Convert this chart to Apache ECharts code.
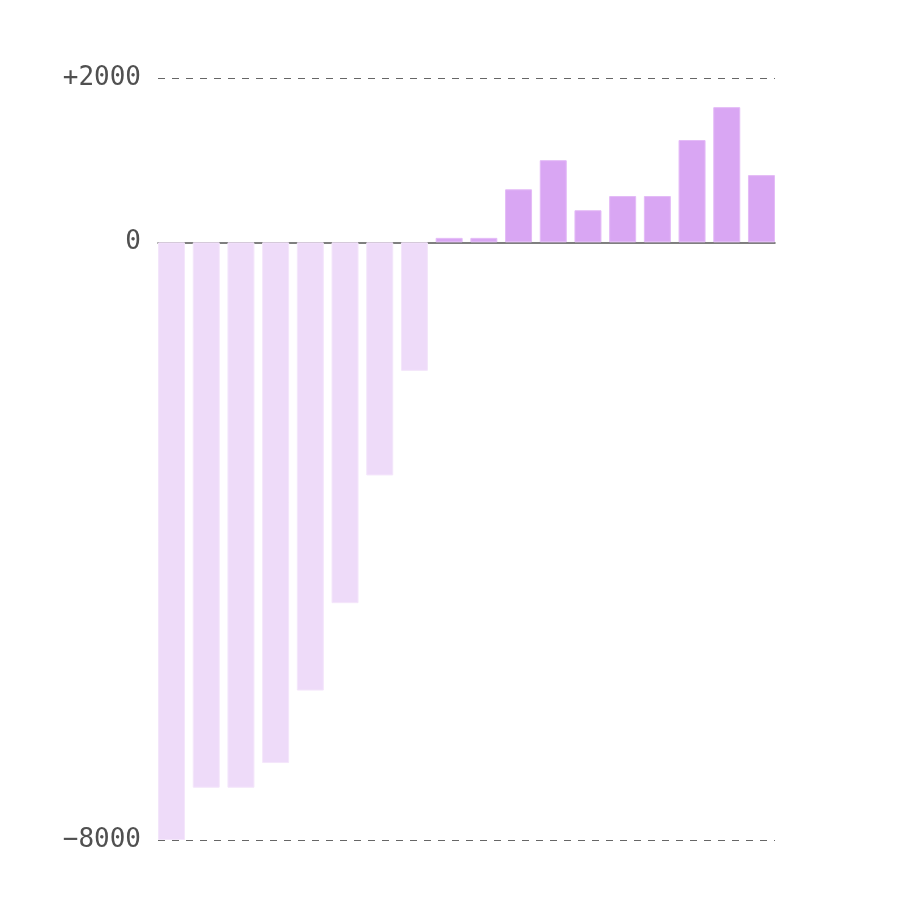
<!DOCTYPE html>
<html>
<head>
<meta charset="utf-8">
<script src="https://cdn.jsdelivr.net/npm/echarts@6/dist/echarts.min.js"></script>
<style>
  html, body { margin: 0; padding: 0; background: #fff; }
  #chart { width: 921px; height: 908px; }
</style>
</head>
<body>
<div id="chart"></div>
<script>
// 18 periods, values
const categories = ['1','2','3','4','5','6','7','8','9','10','11','12','13','14','15','16','17','18'];
const values = [-8000, -7300, -7300, -6970, -6000, -4830, -3120, -1720, 60, 60, 710, 1100, 430, 620, 620, 1370, 1810, 900];

// axis range and the three labelled lines
const axisMin = -8000;
const axisMax = 2200;
const tickValues = [-8000, 0, 2200];
const tickLabels = ['\u22128000', '0', '+2000'];

const chart = echarts.init(document.getElementById('chart'));

// bars sit flush with both ends of the plot, so the x scale runs half a bar past the first and last index
const option = {
  animation: false,
  grid: { left: 158, right: 146, top: 78, bottom: 68, containLabel: false },
  xAxis: {
    type: 'value',
    min: -0.39,
    max: categories.length - 1 + 0.39,
    axisLine: { show: true, onZero: true, lineStyle: { color: '#555', width: 1.5 } },
    axisTick: { show: false },
    axisLabel: { show: false },
    splitLine: { show: false }
  },
  yAxis: {
    type: 'value',
    min: axisMin,
    max: axisMax,
    interval: 200,
    axisLine: { show: false },
    axisTick: { show: false },
    splitLine: { show: false },
    axisLabel: {
      margin: 17,
      color: '#505050',
      fontFamily: 'DejaVu Sans Mono',
      fontSize: 26,
      formatter: function (v) {
        const i = tickValues.indexOf(v);
        return i >= 0 ? tickLabels[i] : '';
      }
    }
  },
  series: [{
    type: 'bar',
    barWidth: 27,
    data: values.map((v, i) => ({
      value: [i, v],
      itemStyle: v < 0
        ? { color: '#eedbf9', borderColor: '#f4e6fb', borderWidth: 1 }
        : { color: '#d9a6f3', borderColor: '#e4bbf7', borderWidth: 1 }
    })),
    markLine: {
      silent: true,
      symbol: 'none',
      label: { show: false },
      lineStyle: { color: '#666', type: [7, 7], width: 1 },
      data: [{ yAxis: axisMin }, { yAxis: axisMax }]
    }
  }]
};

chart.setOption(option);
</script>
</body>
</html>
